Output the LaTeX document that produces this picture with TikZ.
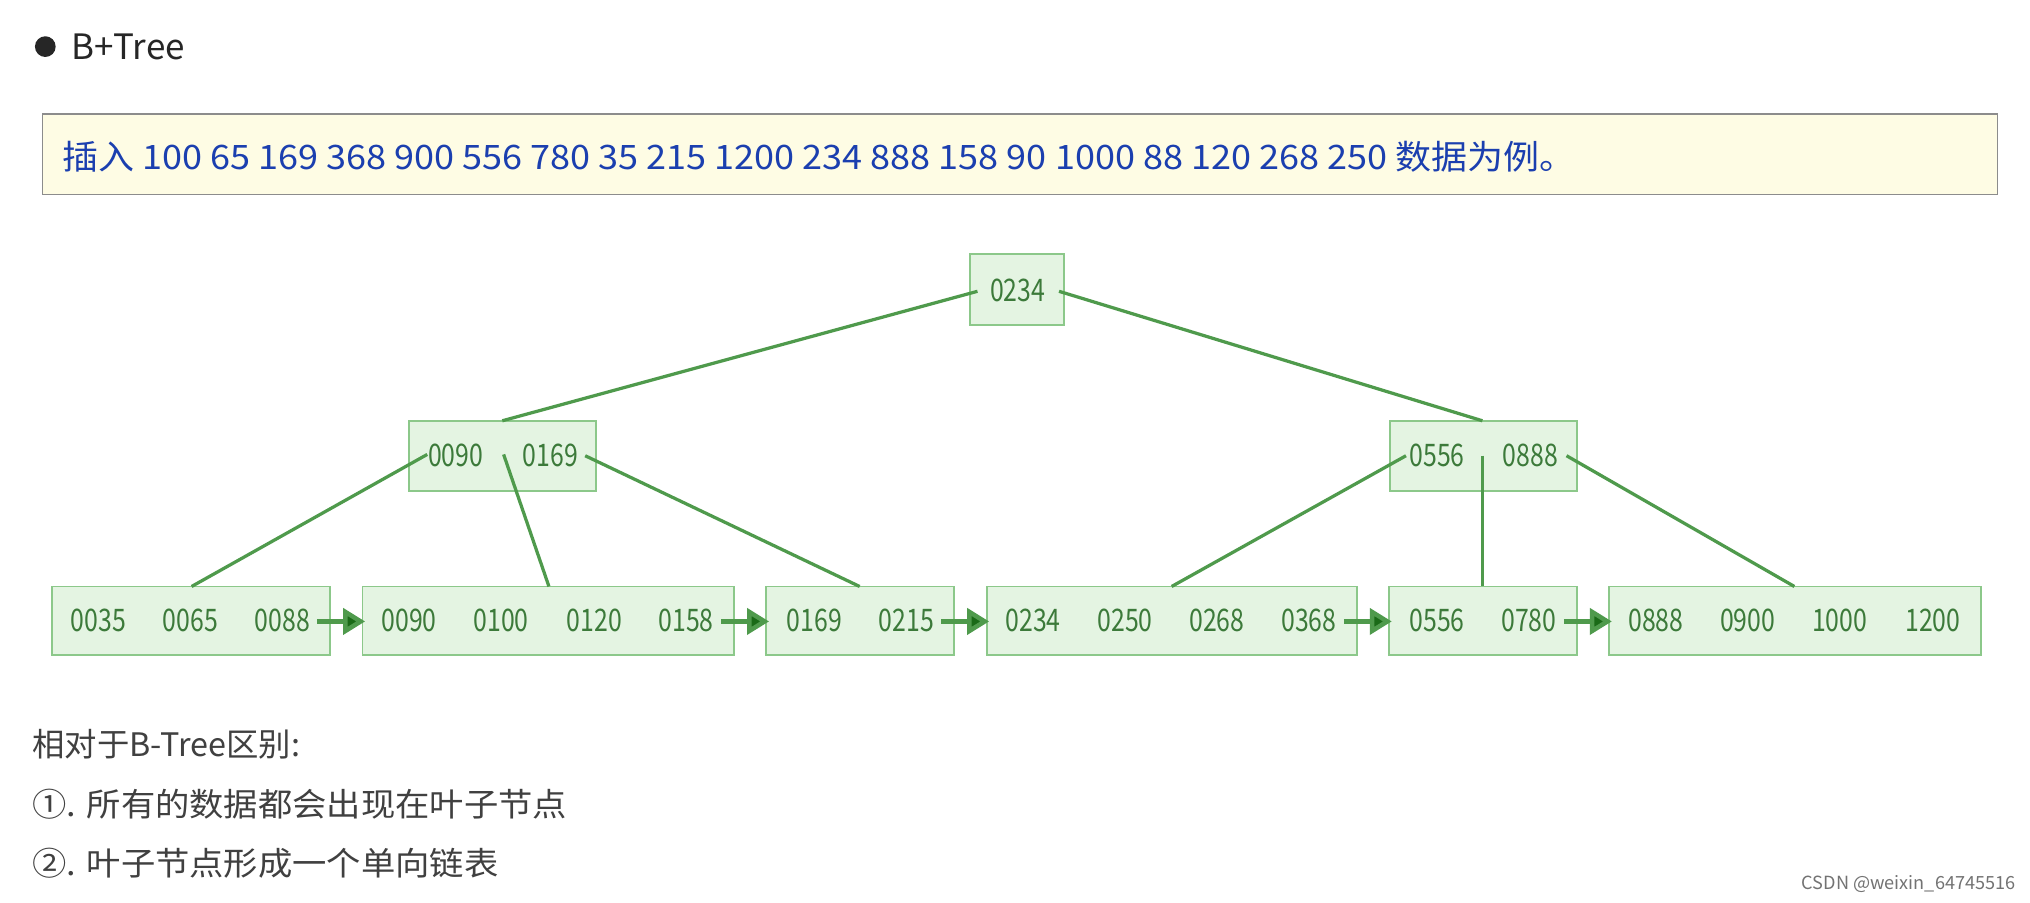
\documentclass[tikz,border=0pt]{standalone}
\usepackage{fontspec}
\setmainfont{Noto Sans CJK SC}
\newfontfamily\numfont{Noto Sans CJK SC}
\usetikzlibrary{arrows.meta}
\definecolor{bfill}{HTML}{E4F4E2}
\definecolor{bdraw}{HTML}{8CC88A}
\definecolor{ln}{HTML}{4F9A4C}
\definecolor{tx}{HTML}{3C7A3A}
\definecolor{ar}{HTML}{1A6A17}
\definecolor{yb}{HTML}{FEFCE4}
\definecolor{blu}{HTML}{1B3FAF}
\tikzset{
 bx/.style={draw=bdraw,fill=bfill,line width=1.5pt,inner sep=0pt},
 num/.style={font=\fontsize{24}{24}\selectfont\numfont,text=tx,inner sep=0pt},
 edge/.style={draw=ln,line width=2.5pt},
 lk/.style={draw=ln,line width=3.5pt,-{Triangle[length=17pt,width=20pt,fill=ar]}},
 body/.style={font=\fontsize{25}{25}\selectfont,text=black!75,anchor=west,inner sep=0pt}
}
\newcommand{\nm}[1]{\scalebox{0.8}[1]{#1}}
\begin{document}
\begin{tikzpicture}[x=1pt,y=-1pt]
\useasboundingbox (0,0) rectangle (1568,697);
\fill[white] (0,0) rectangle (1568,697);
\fill[black!85] (35,36) circle (8);
\node[anchor=west,inner sep=0pt,font=\fontsize{27}{27}\selectfont,text=black!85] (title) at (55,36) {B+Tree};
\draw[draw=black!45,fill=yb,line width=1pt] (33,88) rectangle (1543,150);
\node[anchor=west,inner sep=0pt,font=\fontsize{26}{26}\selectfont,text=blu] (ins) at (48,121) {\scalebox{1.07}[1]{插入 100 65 169 368 900 556 780 35 215 1200 234 888 158 90 1000 88 120 268 250 数据为例。}};
% boxes
\draw[bx] (749,196) rectangle (822,251);
\draw[bx] (316,325) rectangle (460,379);
\draw[bx] (1074,325) rectangle (1218,379);
\draw[bx] (40,453) rectangle (255,506);
\draw[bx] (280,453) rectangle (567,506);
\draw[bx] (592,453) rectangle (737,506);
\draw[bx] (762,453) rectangle (1048,506);
\draw[bx] (1073,453) rectangle (1218,506);
\draw[bx] (1243,453) rectangle (1530,506);
% texts
\foreach \x/\t/\n in {786/0234/r}{\node[num] (k\n) at (\x,224) {\nm{\t}};}
\foreach \x/\t/\n in {352/0090/a1,425/0169/a2,1110/0556/b1,1182/0888/b2}{\node[num] (k\n) at (\x,352) {\nm{\t}};}
\foreach \x/\t/\n in {76/0035/l11,147/0065/l12,218/0088/l13,
 316/0090/l21,387/0100/l22,459/0120/l23,530/0158/l24,
 629/0169/l31,700/0215/l32,
 798/0234/l41,869/0250/l42,940/0268/l43,1011/0368/l44,
 1110/0556/l51,1181/0780/l52,
 1279/0888/l61,1350/0900/l62,1421/1000/l63,1493/1200/l64}{\node[num] (k\n) at (\x,479) {\nm{\t}};}
% edges
\coordinate (r1) at (755,225); \coordinate (r2) at (818,225);
\coordinate (m1) at (388,325); \coordinate (m2) at (1145,325);
\draw[edge] (r1) -- (m1); \draw[edge] (r2) -- (m2);
\coordinate (p1) at (330,351); \coordinate (p2) at (389,351); \coordinate (p3) at (452,352);
\coordinate (q1) at (1086,352); \coordinate (q2) at (1145,352); \coordinate (q3) at (1210,352);
\coordinate (c1) at (148,453); \coordinate (c2) at (424,453); \coordinate (c3) at (664,453);
\coordinate (c4) at (905,453); \coordinate (c5) at (1145,453); \coordinate (c6) at (1386,453);
\draw[edge] (p1)--(c1); \draw[edge] (p2)--(c2); \draw[edge] (p3)--(c3);
\draw[edge] (q1)--(c4); \draw[edge] (q2)--(c5); \draw[edge] (q3)--(c6);
% links
\foreach \a/\b in {245/282,557/594,727/764,1038/1075,1208/1245}{
 \coordinate (s\a) at (\a,480); \coordinate (e\a) at (\b,480);
 \draw[lk] (s\a) -- (e\a);}
% bottom text
\node[body] (t1) at (25,575) {相对于B-Tree区别:};
\node[body] (t2) at (25,621) {\scalebox{1.06}[1]{①. 所有的数据都会出现在叶子节点}};
\node[body] (t3) at (25,667) {\scalebox{1.06}[1]{②. 叶子节点形成一个单向链表}};
\node[anchor=east,inner sep=0pt,font=\fontsize{14}{14}\selectfont,text=black!55] (csdn) at (1557,683) {CSDN @weixin\_64745516};
\end{tikzpicture}
\end{document}
